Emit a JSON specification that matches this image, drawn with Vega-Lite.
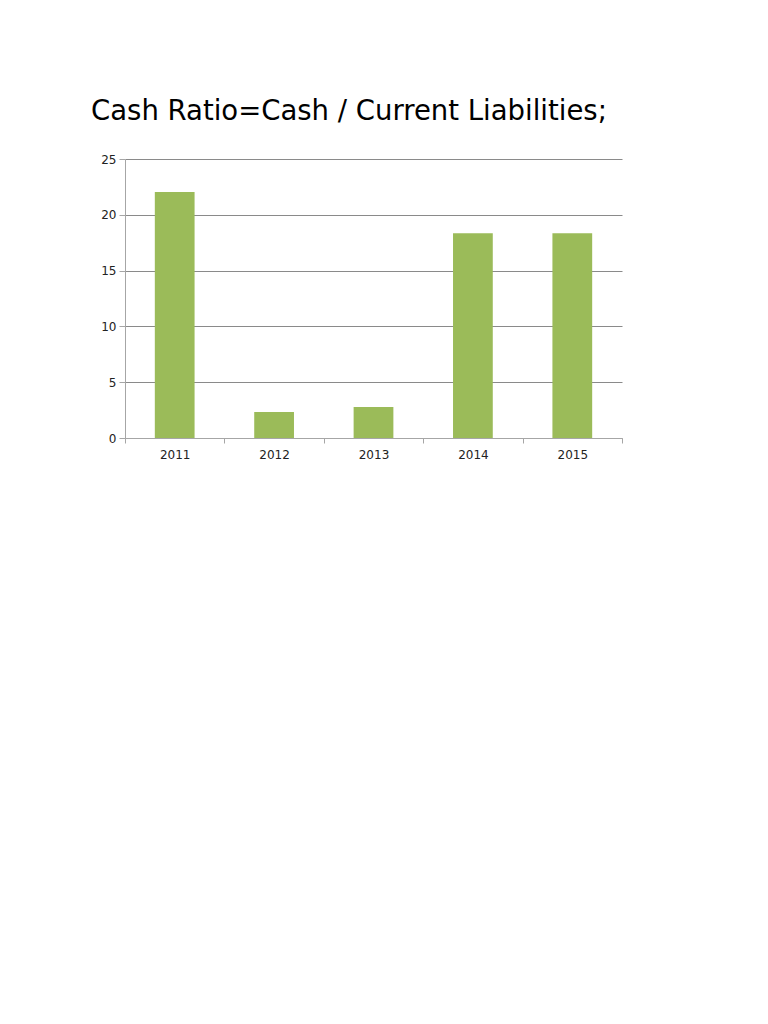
{
  "$schema": "https://vega.github.io/schema/vega-lite/v6.json",
  "autosize": "none",
  "width": 497,
  "height": 279,
  "padding": {"left": 125, "top": 159, "right": 146, "bottom": 586},
  "background": "white",
  "title": {
    "text": "Cash Ratio=Cash / Current Liabilities;",
    "anchor": "start",
    "frame": "group",
    "baseline": "alphabetic",
    "offset": 6,
    "dx": -34,
    "font": "DejaVu Sans",
    "fontSize": 27.5,
    "fontWeight": "normal",
    "color": "#000000"
  },
  "data": {
    "values": [
      {"year": "2011", "ratio": 22.05},
      {"year": "2012", "ratio": 2.33},
      {"year": "2013", "ratio": 2.78},
      {"year": "2014", "ratio": 18.35},
      {"year": "2015", "ratio": 18.35}
    ]
  },
  "mark": {"type": "bar", "color": "#9BBB59", "width": {"band": 0.4}},
  "encoding": {
    "x": {
      "field": "year",
      "type": "nominal",
      "title": null,
      "scale": {"paddingInner": 0, "paddingOuter": 0},
      "axis": {
        "labelAngle": 0,
        "tickBand": "extent",
        "labelFont": "DejaVu Sans",
        "labelFontSize": 12,
        "labelColor": "#222222",
        "labelPadding": 6,
        "domainColor": "#a6a6a6",
        "tickColor": "#a6a6a6",
        "tickSize": 5
      }
    },
    "y": {
      "field": "ratio",
      "type": "quantitative",
      "title": null,
      "scale": {"domain": [0, 25], "nice": false},
      "axis": {
        "values": [0, 5, 10, 15, 20, 25],
        "labelFont": "DejaVu Sans",
        "labelFontSize": 12,
        "labelColor": "#222222",
        "labelPadding": 3,
        "domainColor": "#a6a6a6",
        "tickColor": "#a6a6a6",
        "tickSize": 6,
        "gridColor": "#8a8a8a",
        "gridOpacity": 1
      }
    }
  },
  "config": {"view": {"stroke": null}}
}
